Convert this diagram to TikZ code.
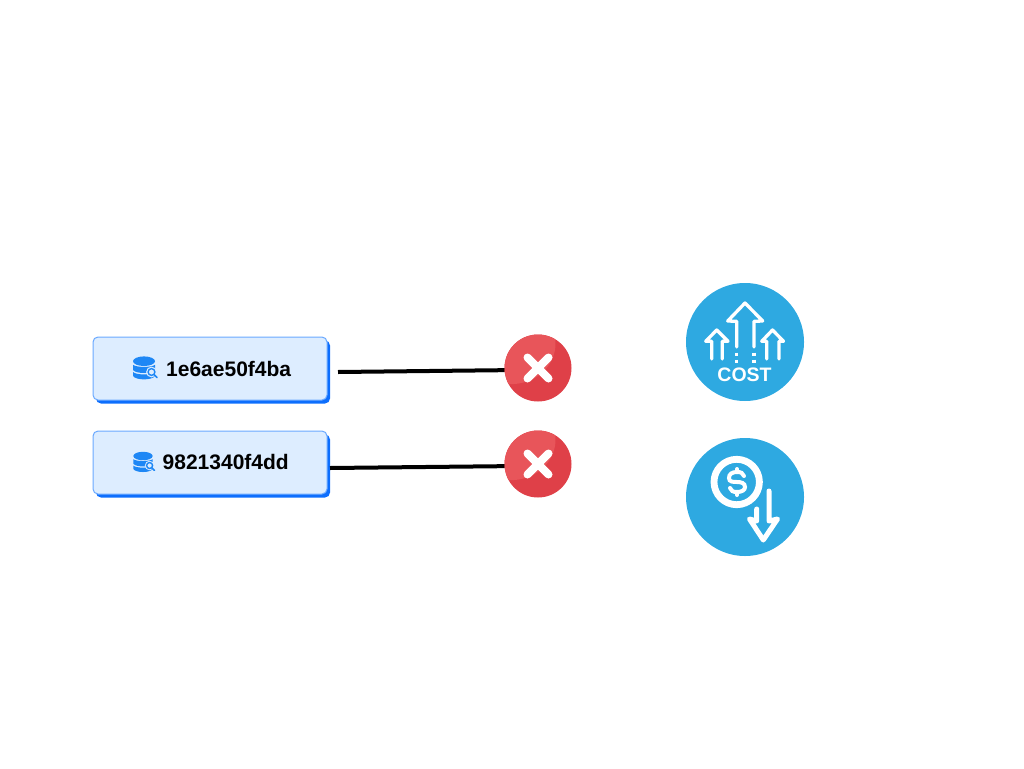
\documentclass[tikz,border=0pt]{standalone}
\usepackage{fontspec}
\setmainfont{Liberation Sans}
\usetikzlibrary{calc,shadows}
\definecolor{boxfill}{HTML}{DDEDFF}
\definecolor{boxline}{HTML}{6AA9FF}
\definecolor{boxshadow}{HTML}{0D6EFD}
\definecolor{dbblue}{HTML}{1E87F5}
\definecolor{crossdark}{HTML}{DF4048}
\definecolor{crosslight}{HTML}{E8555A}
\definecolor{costblue}{HTML}{2EA9E1}
\tikzset{
	hashbox/.style={draw=boxline,line width=1pt,fill=boxfill,rounded corners=5pt,minimum width=234pt,minimum height=63pt,inner sep=0pt,
		general shadow={fill=boxshadow,shadow xshift=3pt,shadow yshift=-3.5pt}},
	hashtext/.style={font=\fontsize{21}{22}\bfseries\selectfont,text=black,inner sep=0pt,anchor=west},
	crossdot/.style={circle,fill=crossdark,minimum size=67pt,inner sep=0pt},
	costdot/.style={circle,fill=costblue,minimum size=118pt,inner sep=0pt},
	link/.style={line width=4pt,black},
	iconline/.style={draw=white,line width=3.3pt,line join=round,line cap=round},
	dbicon/.pic={
		% stack of discs with a small lens
		\fill[dbblue] (0,-6.8) ellipse (11 and 4.8);
		\fill[dbblue] (-11,-3.2) .. controls (-8,-0.4) and (8,-0.4) .. (11,-3.2) -- (11,2) .. controls (8,6) and (-8,6) .. (-11,2) -- cycle;
		\fill[dbblue] (-11,4) .. controls (-8,7.2) and (8,7.2) .. (11,4) -- (11,8) .. controls (8,12.5) and (-8,12.5) .. (-11,8) -- cycle;
		\fill[boxfill] (7.5,4) circle (5.4);
		\draw[dbblue,line width=1.4pt] (7.5,4) circle (3.4);
		\draw[dbblue,line width=1.6pt,line cap=round] (10,6.5) -- (13,9.5);
	}
}
\begin{document}
\begin{tikzpicture}[x=1pt,y=-1pt]
	\useasboundingbox (0,0) rectangle (1024,768);
	% hash boxes
	\node[hashbox] (boxA) at (210,368.5) {};
	\node[hashbox] (boxB) at (210,462.5) {};
	\pic at (144,368) {dbicon};
	\pic[scale=0.88] at (143,462) {dbicon};
	\node[hashtext] (hashA) at (166,368.5) {1e6ae50f4ba};
	\node[hashtext] (hashB) at (162.5,462.5) {9821340f4dd};
	% failed checks
	\coordinate (startA) at (338,372);
	\coordinate (startB) at (330,468);
	\coordinate (endA) at (520,370);
	\coordinate (endB) at (520,466);
	\draw[link] (startA) -- (endA);
	\draw[link] (startB) -- (endB);
	\foreach \name/\y in {crossA/368,crossB/464}{
		\node[crossdot] (\name) at (538,\y) {};
		\begin{scope}
			\clip (\name) circle (33.5);
			\fill[crosslight] ($(\name)+(-40,-40)$) -- ($(\name)+(17,-40)$) -- ($(\name)+(17,-30)$)
				.. controls ($(\name)+(21,-8)$) and ($(\name)+(2,18)$) .. ($(\name)+(-31,16)$) -- ($(\name)+(-40,16)$) -- cycle;
		\end{scope}
		\draw[white,line width=8pt,line cap=round] ($(\name)+(-10.5,-10.5)$) -- ($(\name)+(10.5,10.5)$);
		\draw[white,line width=8pt,line cap=round] ($(\name)+(10.5,-10.5)$) -- ($(\name)+(-10.5,10.5)$);
	}
	% cost up
	\node[costdot] (costUp) at (745,342) {};
	\draw[iconline] (736.7,347) -- (736.7,321.3) -- (727.7,321) -- (745,303) -- (762.7,321) -- (754,321.3) -- (754,347);
	\draw[iconline] (711.7,359) -- (711.7,341.3) -- (705.7,341.3) -- (716.7,330) -- (728,341.3) -- (722.3,341.3) -- (722.3,359);
	\draw[iconline] (766.7,359) -- (766.7,341.3) -- (761.7,341.3) -- (772.5,330) -- (783.5,341.3) -- (779,341.3) -- (779,359);
	\foreach \x in {736.7,754}{
		\draw[white,line width=3.3pt] (\x,352.5) -- (\x,356);
		\draw[white,line width=3.3pt] (\x,359.5) -- (\x,362.5);
	}
	\node[text=white,font=\fontsize{19.5}{20}\bfseries\selectfont,inner sep=0pt] (costText) at (744.5,374.5) {COST};
	% cost down
	\node[costdot] (costDown) at (745,497) {};
	\draw[white,line width=6.8pt] (736.7,482) circle (22.7);
	\draw[white,line width=4pt,line cap=round] (744,476) .. controls (743,473) and (741,472) .. (737,472)
		.. controls (732,472) and (729,474) .. (729,478) .. controls (729,482) and (733,482) .. (737,482)
		.. controls (741,482) and (745,483) .. (745,487) .. controls (745,490) and (742,492) .. (737,492)
		.. controls (733,492) and (731,491) .. (730,488);
	\draw[white,line width=4pt,line cap=round] (737,469) -- (737,472);
	\draw[white,line width=4pt,line cap=round] (737,492) -- (737,495);
	\draw[iconline,line width=5pt] (769,491) -- (769,521) -- (777.5,519) -- (763.3,540) -- (749.5,519) -- (756.7,521) -- (756.7,509);
\end{tikzpicture}
\end{document}
